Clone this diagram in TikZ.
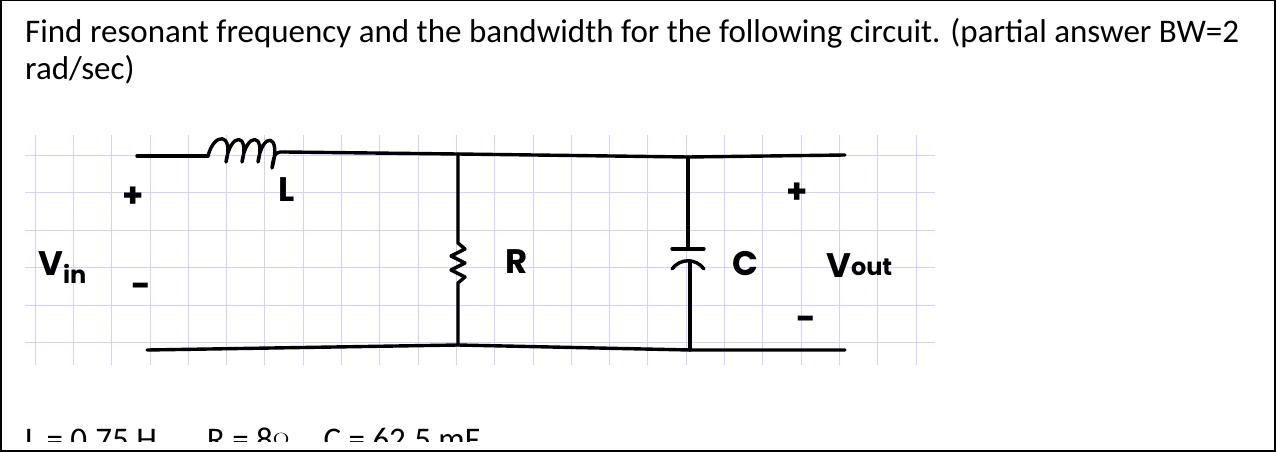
\documentclass[tikz,border=0pt]{standalone}
\usepackage{fontspec}
\setmainfont{Carlito}
\newfontfamily\hand{Poppins}
\begin{document}
\begin{tikzpicture}[x=1pt,y=-1pt,
  wire/.style={line width=3.4pt,line cap=round,line join=round},
  lbl/.style={font=\hand\bfseries\fontsize{34}{34}\selectfont,inner sep=0},
  grid/.style={draw=blue!18,line width=0.8pt}]
\useasboundingbox (0,0) rectangle (1276,452);
\fill[white] (0,0) rectangle (1276,452);
% grid
\foreach \i in {0,...,23} \draw[grid] (35+38.3*\i,135) -- (35+38.3*\i,365);
\foreach \j in {0,...,5} \draw[grid] (25,155+37.5*\j) -- (935,155+37.5*\j);
% title
\node[anchor=base west,inner sep=0,font=\fontsize{33}{33}\selectfont] (t1) at (25,42) {Find resonant frequency and the bandwidth for the following circuit. (partial answer BW=2};
\node[anchor=base west,inner sep=0,font=\fontsize{33}{33}\selectfont] (t2) at (25,79) {rad/sec)};
% circuit
\coordinate (a) at (137,156);
\coordinate (b) at (208,156);
\coordinate (c) at (285,152);
\coordinate (n1) at (458,154);
\coordinate (n2) at (688,157);
\coordinate (o1) at (845,155);
\coordinate (g0) at (147,350);
\coordinate (g1) at (458,345);
\coordinate (g2) at (690,350);
\coordinate (o2) at (845,350);
\draw[wire] (a) -- (b);
\draw[wire] (b) .. controls (214,132) and (234,132) .. (226,162) .. controls (230,132) and (250,132) .. (242,162)
  .. controls (246,132) and (266,132) .. (258,162) .. controls (262,132) and (282,132) .. (272,168) .. controls (274,150) and (278,152) .. (c);
\draw[wire] (c) -- (n1) -- (n2) -- (o1);
\draw[wire] (g0) -- (g1) -- (g2) -- (o2);
\draw[wire] (n1) -- (458,243) -- (465,249) -- (451,256) -- (465,263) -- (451,270) -- (465,277) -- (458,283) -- (g1);
\draw[wire] (n2) -- (688,249);
\draw[wire] (672,249) -- (704,249);
\draw[wire] (672,269) .. controls (680,258) and (696,258) .. (704,269);
\draw[wire] (690,261) -- (g2);
% labels
\node[lbl] (L) at (287,190) {L};
\node[lbl] (R) at (517,262) {R};
\node[lbl] (C) at (745,264) {C};
\node[lbl] (p1) at (133,197) {+};
\node[lbl] (m1) at (141,290) {-};
\node[lbl] (p2) at (797,193) {+};
\node[lbl] (m2) at (806,323) {-};
\node[lbl,anchor=base west] (vin) at (38,275) {V\raisebox{-8pt}{\fontsize{24}{24}\selectfont in}};
\node[lbl,anchor=base west] (vout) at (826,277) {V\raisebox{2pt}{\fontsize{24}{24}\selectfont out}};
% values (clipped as in the reference)
\begin{scope}
\clip (0,0) rectangle (1276,441);
\node[anchor=base west,inner sep=0,font=\fontsize{33}{33}\selectfont] (vals) at (25,450) {L = 0.75 H\hspace{50pt}R = 8$\Omega$\hspace{34pt}C = 62.5 mF};
\end{scope}
\draw[line width=1.5pt] (1,0) -- (1,451) -- (1275,451) -- (1275,0);
\draw[line width=1pt] (1,0.5) -- (1275,0.5);
\end{tikzpicture}
\end{document}
